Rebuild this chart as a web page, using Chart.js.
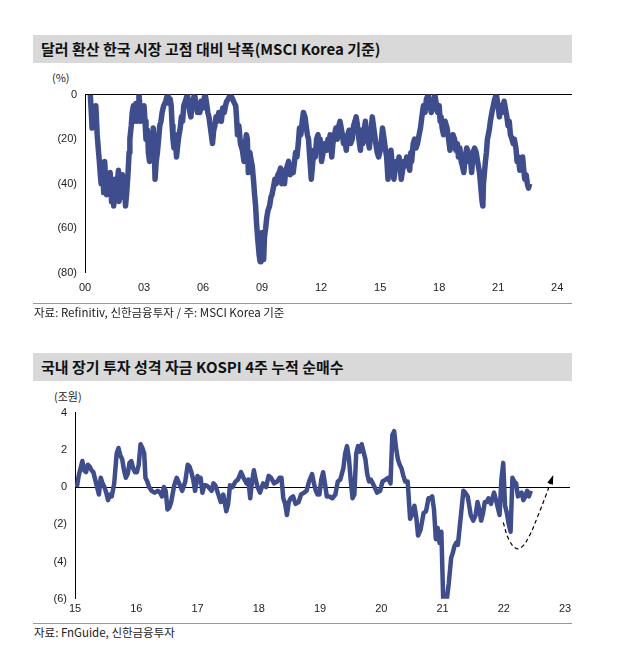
<!DOCTYPE html>
<html><head><meta charset="utf-8">
<script src="https://cdn.jsdelivr.net/npm/chart.js@4/dist/chart.umd.min.js"></script>
<style>
body{margin:0;width:620px;height:657px;background:#fff;position:relative;font-family:"Noto Sans CJK KR","Noto Sans",sans-serif;overflow:hidden}
.hdr{position:absolute;left:33px;width:539px;height:28px;background:#d9d9d9;font-weight:bold;font-size:15px;line-height:28px;padding-left:8px;box-sizing:border-box;color:#111}
.sep{position:absolute;left:33px;width:539px;height:1px;background:#999}
.src{position:absolute;left:34px;font-size:11.5px;color:#222}
.unit{position:absolute;font-size:11px;color:#222}
.box{position:absolute}
</style></head><body>
<div class="hdr" style="top:35px">달러 환산 한국 시장 고점 대비 낙폭(MSCI Korea 기준)</div>
<div class="unit" style="left:52px;top:69px">(%)</div>
<div class="box" style="left:30px;top:80px;width:550px;height:224px"><canvas id="c1"></canvas></div>
<div class="sep" style="top:303px"></div>
<div class="src" style="top:304px">자료: Refinitiv, 신한금융투자 / 주: MSCI Korea 기준</div>

<div class="hdr" style="top:353px">국내 장기 투자 성격 자금 KOSPI 4주 누적 순매수</div>
<div class="unit" style="left:54px;top:388px">(조원)</div>
<div class="box" style="left:20px;top:398px;width:560px;height:222px"><canvas id="c2"></canvas></div>
<div class="sep" style="top:623px"></div>
<div class="src" style="top:624px">자료: FnGuide, 신한금융투자</div>
<script>
// Chart 1: drawdown (%), x in years since 2000 (10 points per row)
const ddYears=[
0.27,0.32,0.36,0.42,0.48,0.55,0.62,0.68,0.73,0.78,
0.82,0.9,0.95,1.0,1.05,1.1,1.18,1.22,1.28,1.35,
1.4,1.46,1.52,1.58,1.64,1.7,1.73,1.8,1.85,1.9,
1.96,2.0,2.06,2.12,2.19,2.24,2.28,2.35,2.4,2.46,
2.52,2.58,2.65,2.7,2.74,2.78,2.83,2.9,2.95,3.0,
3.05,3.1,3.18,3.22,3.28,3.35,3.42,3.47,3.52,3.56,
3.62,3.68,3.74,3.8,3.86,3.92,4.0,4.1,4.2,4.28,
4.33,4.38,4.43,4.47,4.52,4.58,4.65,4.72,4.78,4.84,
4.9,4.96,5.02,5.1,5.2,5.28,5.33,5.38,5.45,5.5,
5.57,5.65,5.72,5.78,5.84,5.9,5.98,6.05,6.11,6.18,
6.24,6.3,6.36,6.42,6.48,6.54,6.6,6.66,6.72,6.8,
6.87,6.93,7.0,7.08,7.14,7.2,7.28,7.39,7.5,7.6,
7.66,7.7,7.75,7.82,7.9,8.0,8.08,8.15,8.2,8.25,
8.3,8.38,8.45,8.5,8.56,8.62,8.67,8.72,8.78,8.85,
8.9,8.94,8.98,9.03,9.08,9.12,9.18,9.24,9.3,9.38,
9.45,9.5,9.57,9.65,9.72,9.8,9.87,9.94,10.0,10.08,
10.14,10.2,10.28,10.35,10.42,10.5,10.58,10.65,10.7,10.77,
10.84,10.9,10.97,11.04,11.1,11.18,11.24,11.3,11.36,11.42,
11.5,11.58,11.64,11.7,11.77,11.84,11.9,11.95,12.02,12.1,
12.2,12.28,12.35,12.4,12.46,12.54,12.6,12.68,12.75,12.82,
12.9,12.96,13.02,13.08,13.14,13.2,13.28,13.35,13.42,13.5,
13.58,13.65,13.72,13.78,13.85,13.92,14.0,14.05,14.12,14.2,
14.25,14.3,14.38,14.45,14.52,14.6,14.66,14.72,14.78,14.85,
14.92,14.98,15.05,15.12,15.2,15.26,15.33,15.4,15.48,15.55,
15.62,15.7,15.76,15.82,15.9,15.96,16.02,16.07,16.14,16.2,
16.28,16.35,16.42,16.5,16.56,16.6,16.68,16.75,16.82,16.9,
16.98,17.05,17.12,17.2,17.28,17.35,17.45,17.52,17.6,17.7,
17.78,17.85,17.92,18.0,18.05,18.1,18.15,18.22,18.3,18.4,
18.48,18.55,18.62,18.7,18.78,18.85,18.92,18.98,19.05,19.12,
19.18,19.25,19.32,19.4,19.45,19.5,19.58,19.65,19.72,19.8,
19.88,19.95,20.05,20.12,20.18,20.22,20.25,20.3,20.35,20.4,
20.45,20.5,20.56,20.6,20.68,20.75,20.82,20.9,20.98,21.06,
21.12,21.18,21.25,21.3,21.36,21.44,21.5,21.56,21.62,21.7,
21.76,21.82,21.9,21.96,22.02,22.1,22.17,22.24,22.3,22.35,
22.42,22.48,22.54,22.6];
const ddValues=[
0,-8,-15,-6,-10,-5,-18,-25,-30,-36,
-40,-32,-44,-30,-38,-45,-36,-42,-35,-48,
-40,-50,-38,-44,-40,-34,-48,-42,-38,-36,
-46,-40,-50,-44,-35,-26,-20,-14,-8,-5,
-12,-4,-12,-6,0,-4,-12,-6,-10,-5,
-12,-20,-16,-26,-30,-22,-28,-15,-24,-38,
-30,-26,-20,-14,-12,-8,-5,-3,0,-4,
-2,-5,-14,-20,-24,-18,-28,-22,-18,-15,
-10,-12,-5,-3,0,-5,-8,-10,-4,-2,
0,-5,-8,-4,-8,-3,-6,-2,0,-4,
-8,-10,-14,-18,-22,-16,-14,-10,-12,-8,
-10,-12,-6,-8,-5,-3,-2,0,-2,-4,
-5,-10,-18,-14,-22,-25,-30,-22,-18,-20,
-35,-26,-30,-32,-38,-45,-50,-58,-65,-72,
-75,-70,-62,-68,-74,-64,-60,-55,-52,-50,
-46,-45,-42,-38,-40,-36,-35,-33,-40,-36,
-40,-34,-32,-30,-36,-33,-35,-30,-26,-28,
-22,-15,-18,-12,-8,-10,-14,-18,-20,-28,
-38,-30,-25,-28,-20,-18,-22,-20,-30,-26,
-22,-25,-20,-22,-18,-28,-22,-18,-15,-20,
-14,-12,-15,-18,-22,-20,-25,-18,-16,-22,
-20,-14,-12,-10,-14,-20,-25,-16,-22,-15,
-12,-18,-20,-24,-18,-10,-14,-18,-22,-26,
-28,-26,-22,-15,-20,-24,-28,-38,-30,-25,
-32,-38,-34,-30,-32,-28,-32,-38,-34,-30,
-32,-28,-30,-34,-26,-30,-22,-20,-24,-22,
-18,-15,-10,-5,-8,-2,0,-4,-8,-5,
0,-4,-8,-5,-12,-10,-15,-18,-12,-15,
-20,-25,-22,-18,-20,-25,-22,-28,-24,-30,
-32,-35,-28,-24,-25,-30,-28,-35,-26,-24,
-26,-30,-35,-42,-48,-50,-40,-35,-30,-26,
-20,-18,-15,-12,-8,-5,-2,0,-4,-10,
-5,-8,-5,-3,-6,-10,-14,-12,-18,-20,
-22,-20,-24,-30,-28,-34,-30,-28,-34,-38,
-36,-40,-42,-40];
const ddTicks=[0,-20,-40,-60,-80];
// Chart 2: KOSPI 4-week net buying (trillion KRW), x in years
const nbYears=[15.03,15.06,15.09,15.12,15.15,15.18,15.21,15.24,15.27,15.3,15.33,15.36,15.39,15.42,15.45,15.48,15.51,15.54,15.57,15.6,15.64,15.68,15.71,15.74,15.77,15.8,15.83,15.86,15.89,15.92,15.95,15.98,16.01,16.04,16.07,16.1,16.13,16.15,16.18,16.21,16.25,16.3,16.35,16.39,16.42,16.45,16.48,16.51,16.54,16.57,16.62,16.66,16.7,16.75,16.8,16.84,16.87,16.9,16.93,16.96,17.0,17.02,17.05,17.08,17.11,17.14,17.18,17.23,17.26,17.29,17.33,17.38,17.42,17.47,17.5,17.53,17.57,17.62,17.66,17.71,17.75,17.8,17.83,17.86,17.89,17.92,17.95,17.98,18.02,18.07,18.12,18.16,18.2,18.25,18.3,18.34,18.37,18.4,18.43,18.46,18.49,18.52,18.56,18.6,18.65,18.69,18.74,18.78,18.82,18.87,18.9,18.93,18.96,18.99,19.02,19.05,19.08,19.11,19.15,19.2,19.25,19.29,19.33,19.38,19.41,19.44,19.47,19.5,19.53,19.56,19.59,19.62,19.65,19.68,19.71,19.74,19.77,19.8,19.83,19.86,19.89,19.93,19.98,20.02,20.07,20.11,20.15,20.18,20.21,20.24,20.27,20.3,20.33,20.36,20.39,20.43,20.47,20.5,20.54,20.57,20.6,20.64,20.69,20.73,20.77,20.8,20.83,20.86,20.89,20.92,20.95,20.98,21.01,21.04,21.07,21.1,21.14,21.17,21.19,21.22,21.25,21.3,21.34,21.37,21.41,21.46,21.5,21.54,21.57,21.6,21.63,21.66,21.69,21.72,21.75,21.79,21.84,21.88,21.93,21.96,21.99,22.02,22.05,22.08,22.11,22.14,22.17,22.2,22.23,22.26,22.29,22.32,22.35,22.38,22.41,22.44,22.47,22.5,22.53,22.56,22.59,22.62];
const nbValues=[0,0.6,1.0,1.4,0.9,0.8,1.2,1.1,0.9,0.8,0.4,0,-0.4,0.5,0.2,0,-0.3,-0.7,-0.4,-0.5,0.2,1.8,2.1,1.7,1.5,0.9,0.5,0.7,1.3,1.4,1.0,0.8,0.8,1.2,2.3,2.1,1.8,0.5,0.3,0,-0.2,-0.3,-0.2,-0.3,-0.5,0,-0.2,-1.2,-1.1,-0.8,0.1,0.5,0.2,-0.2,0.3,1.2,1.1,0.8,0.4,-0.2,0.6,0.3,0.5,-0.3,0.1,0.1,0,-0.2,0.2,0.1,-0.3,-0.8,-0.4,-1.3,-0.9,0.1,0,0.3,0.4,0.8,0.5,0.2,0.4,-0.6,0.3,0.9,0.4,0,-0.3,0.2,0,0.6,0.5,0.2,0.3,0.5,0.5,-0.6,-0.9,-1.5,-0.8,-0.6,-0.5,-0.9,-0.8,-0.4,-0.3,-0.2,0.3,0.7,0.2,-0.2,-0.4,-0.4,0.4,0.8,0.2,-0.5,-0.5,-0.6,-0.4,0.3,0.4,1.0,1.8,2.2,1.6,0.4,-0.6,-0.4,1.8,2.2,1.9,2.3,1.9,1.5,0.7,0.3,0.4,0.2,0,-0.3,-0.2,0.3,0.4,0.5,0.2,2.8,3.0,2.1,1.5,1.2,1.0,0.6,0.3,0.3,-1.7,-1.5,-1.0,-1.6,-2.6,-2.3,-1.4,-1.3,-0.6,-0.6,-0.5,-1.2,-2.8,-2.2,-3.0,-2.4,-6.0,-6.0,-6.0,-5.2,-3.8,-3.5,-3.2,-3.0,-3.1,-1.5,-0.2,-0.3,-0.5,-1.5,-1.8,-1.5,-0.8,-1.2,-1.8,-1.4,-0.8,-0.8,-0.6,-0.9,-0.3,-0.8,-1.5,0.4,1.3,-1.0,-1.4,-2.0,-2.4,0.5,0.3,0.2,-0.5,-0.4,-0.3,-0.7,-0.5,-0.2,-0.5,-0.2];
const arrowYears=[21.99,22.08,22.2,22.3,22.42,22.55,22.68,22.79];
const arrowValues=[-1.9,-2.8,-3.3,-3.2,-2.6,-1.6,-0.5,0.5];
const nbTicks=[4,2,0,-2,-4,-6];

const FONT={family:"'Liberation Sans','Noto Sans CJK KR',sans-serif",size:11};
const fmt=v=>v<0?'('+Math.abs(v)+')':String(v);
const LINE='#3e4d8e';
function pts(xs,ys){return xs.map((x,i)=>({x:x,y:ys[i]}));}
const zeroGrid={display:true,drawTicks:false,color:c=>c.tick&&c.tick.value===0?'#000':'rgba(0,0,0,0)',lineWidth:1};

new Chart(document.getElementById('c1'),{type:'line',
 data:{datasets:[{data:pts(ddYears,ddValues),borderColor:LINE,borderWidth:5.5,pointRadius:0,tension:0,borderJoinStyle:'round'}]},
 options:{animation:false,responsive:true,maintainAspectRatio:false,plugins:{legend:{display:false},tooltip:{enabled:false}},
  layout:{padding:{left:0,right:8,top:0,bottom:0}},
  scales:{
   x:{type:'linear',min:0,max:24.75,border:{display:false},grid:{display:true,drawOnChartArea:false,drawTicks:false},
      afterBuildTicks:s=>{s.ticks=[0,3,6,9,12,15,18,21,24].map(v=>({value:v}));},
      ticks:{font:FONT,color:'#222',maxRotation:0,padding:9,callback:v=>String(v).padStart(2,'0')}},
   y:{min:-80,max:0,border:{display:true,color:'#000'},grid:zeroGrid,
      afterBuildTicks:s=>{s.ticks=ddTicks.map(v=>({value:v}));},
      afterFit:s=>{s.width=55;},
      ticks:{font:FONT,color:'#222',padding:8,callback:fmt}}
  }}});

const arrowPlugin={id:'arrowHead',afterDatasetsDraw(ch){
  const m=ch.getDatasetMeta(1);const n=m.data.length;const a=m.data[n-1],b=m.data[n-2];
  const ctx=ch.ctx;const ang=Math.atan2(a.y-b.y,a.x-b.x);
  ctx.save();ctx.fillStyle='#000';ctx.beginPath();ctx.moveTo(a.x+3*Math.cos(ang),a.y+3*Math.sin(ang));
  ctx.lineTo(a.x-7*Math.cos(ang-0.45),a.y-7*Math.sin(ang-0.45));
  ctx.lineTo(a.x-7*Math.cos(ang+0.45),a.y-7*Math.sin(ang+0.45));ctx.closePath();ctx.fill();ctx.restore();}};

new Chart(document.getElementById('c2'),{type:'line',
 data:{datasets:[{data:pts(nbYears,nbValues),borderColor:LINE,borderWidth:4.5,pointRadius:0,tension:0,borderJoinStyle:'round'},
  {data:pts(arrowYears,arrowValues),borderColor:'#000',borderWidth:1.2,borderDash:[4,3],pointRadius:0,tension:0.4}]},
 options:{animation:false,responsive:true,maintainAspectRatio:false,plugins:{legend:{display:false},tooltip:{enabled:false}},
  layout:{padding:{left:0,right:10,top:0,bottom:0}},
  scales:{
   x:{type:'linear',min:15,max:23.08,border:{display:false},grid:{display:true,drawOnChartArea:false,drawTicks:false},
      afterBuildTicks:s=>{s.ticks=[15,16,17,18,19,20,21,22,23].map(v=>({value:v}));},
      ticks:{font:FONT,color:'#222',maxRotation:0,padding:4,callback:v=>String(v)}},
   y:{min:-6,max:4,border:{display:true,color:'#000'},grid:zeroGrid,
      afterBuildTicks:s=>{s.ticks=nbTicks.map(v=>({value:v}));},
      afterFit:s=>{s.width=55;},
      ticks:{font:FONT,color:'#222',padding:8,callback:fmt}}
  }},plugins:[arrowPlugin]});
</script>
</body></html>
